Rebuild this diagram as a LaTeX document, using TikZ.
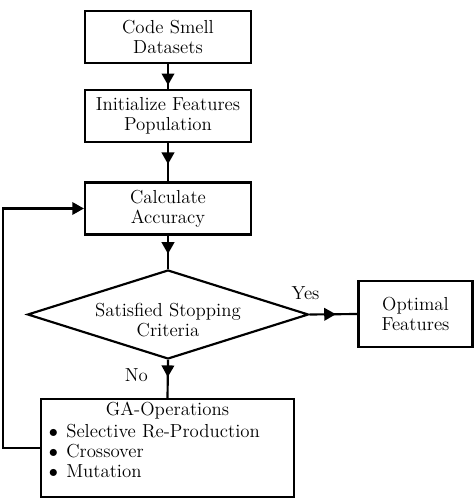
\documentclass[tikz,border=0pt]{standalone}
\usepackage{amsmath}
\usepackage{xcolor}
\usepackage{tikz}
\usetikzlibrary{shapes.geometric, arrows.meta, decorations.markings, positioning}

\tikzset{
  procbox/.style={draw, line width=1.3pt, rectangle, align=center,
    minimum width=99.6pt, minimum height=31.2pt, inner sep=2pt},
  testbox/.style={draw, line width=1.3pt, diamond, align=center,
    minimum width=168.6pt, minimum height=53.4pt, inner sep=0pt, aspect=3.16},
  flowline/.style={line width=1.3pt},
  midarrow/.style={flowline, postaction={decorate},
    decoration={markings, mark=at position #1 with
      {\arrow{Triangle[length=7pt, width=7.5pt]}}}},
}

\begin{document}
\begin{tikzpicture}[x=0.6pt, y=0.6pt, font=\fontsize{11.3}{12}\selectfont]

  \useasboundingbox (0, 0) rectangle (474, 500);

  % ── Main column ───────────────────────────────────────────────────────────
  \node[procbox] (data) at (168, 463) {Code Smell\\Datasets};
  \node[procbox] (init) at (168, 384) {Initialize Features\\Population};
  \node[procbox] (acc)  at (168, 291.5) {Calculate\\Accuracy};
  \node[testbox] (stop) at (168, 185.5)
    {\raisebox{-7.5pt}[0pt][0pt]{\begin{tabular}{@{}c@{}}Satisfied Stopping\\Criteria\end{tabular}}};

  % ── Exit on the right ─────────────────────────────────────────────────────
  \node[procbox, minimum width=68.4pt, minimum height=39.6pt]
    (best) at (415.5, 186) {Optimal\\Features};

  % ── GA operations box ─────────────────────────────────────────────────────
  \node[procbox, minimum width=151.8pt, minimum height=58.8pt]
    (ga) at (167.5, 52) {};
  \node[below=-1pt of ga.north] (gahead) {GA-Operations};
  \node[below right=-4pt and 1.8pt of ga.west |- gahead.south, align=left]
    (galist)
    {$\bullet$\hspace{5pt}Selective Re-Production\\
     $\bullet$\hspace{5pt}Crossover\\
     $\bullet$\hspace{5pt}Mutation};

  % ── Connectors ────────────────────────────────────────────────────────────
  \draw[midarrow=0.85] (data) -- (init);
  \draw[midarrow=0.55] (init) -- (acc);
  \draw[midarrow=0.55] (acc) -- (stop.north);
  \draw[midarrow=0.55] (stop.east) -- (best.west)
    node[pos=0, above=5pt, xshift=-2.4pt] (yes) {Yes};
  \draw[midarrow=0.45] (stop.south) -- (ga.north)
    node[pos=0.4, left=8pt] (no) {No};

  % feedback loop back to accuracy
  \coordinate (loopbot) at (3, 52);
  \coordinate (looptop) at (3, 291.5);
  \draw[flowline, -{Triangle[length=7pt, width=7.5pt]}]
    (ga.west) -- (loopbot) -- (looptop) -- (acc.west);

\end{tikzpicture}
\end{document}
